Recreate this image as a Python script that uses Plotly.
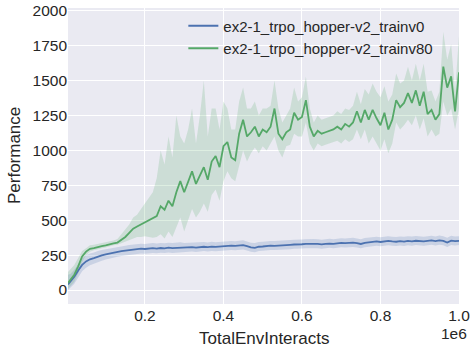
import plotly.graph_objects as go

# Total environment interactions (thousands)
interacts_k = [4, 10, 20, 30, 40, 50, 60, 70, 80, 90,
               100, 110, 120, 130, 140, 150, 160, 170, 180, 190,
               200, 210, 220, 230, 240, 250, 260, 270, 280, 290,
               300, 310, 320, 330, 340, 350, 360, 370, 380, 390,
               400, 410, 420, 430, 440, 450, 460, 470, 480, 490,
               500, 510, 520, 530, 540, 550, 560, 570, 580, 590,
               600, 610, 620, 630, 640, 650, 660, 670, 680, 690,
               700, 710, 720, 730, 740, 750, 760, 770, 780, 790,
               800, 810, 820, 830, 840, 850, 860, 870, 880, 890,
               900, 910, 920, 930, 940, 950, 960, 970, 980, 990, 1000]

# ex2-1_trpo_hopper-v2_trainv0 (blue)
v0_mean = [40, 60, 95, 140, 180, 205, 220, 228, 240, 248,
           255, 262, 268, 272, 278, 282, 286, 290, 292, 296,
           294, 298, 300, 297, 301, 299, 303, 300, 302, 306,
           303, 305, 307, 304, 308, 310, 307, 311, 309, 312,
           310, 314, 318, 316, 319, 322, 314, 305, 302, 310,
           312, 316, 318, 317, 320, 322, 321, 324, 326, 325,
           328, 330, 328, 331, 330, 327, 330, 333, 330, 335,
           337, 336, 338, 340, 336, 330, 338, 342, 345, 348,
           344, 350, 352, 348, 346, 350, 347, 352, 349, 353,
           350, 348, 352, 355, 350, 356, 352, 340, 354, 350, 352]
v0_low = [0, 15, 45, 90, 135, 160, 178, 188, 200, 210,
          218, 226, 232, 238, 244, 248, 252, 256, 258, 262,
          260, 264, 266, 263, 267, 265, 269, 266, 268, 272,
          272, 274, 276, 273, 277, 279, 276, 280, 278, 281,
          279, 283, 287, 285, 288, 291, 283, 274, 271, 279,
          281, 285, 287, 286, 289, 291, 290, 293, 295, 294,
          297, 299, 297, 300, 299, 296, 299, 302, 299, 304,
          306, 305, 307, 309, 305, 299, 307, 311, 314, 317,
          313, 319, 321, 317, 315, 319, 316, 321, 318, 322,
          319, 317, 321, 324, 319, 325, 321, 309, 323, 319, 322]
v0_high = [110, 115, 145, 190, 225, 250, 262, 268, 280, 286,
           292, 298, 304, 308, 314, 318, 322, 326, 328, 332,
           330, 334, 336, 333, 337, 335, 339, 336, 338, 342,
           337, 339, 341, 338, 342, 344, 341, 345, 343, 346,
           344, 348, 352, 350, 353, 356, 348, 339, 336, 344,
           346, 350, 352, 351, 354, 356, 355, 358, 360, 359,
           362, 364, 362, 365, 364, 361, 364, 367, 364, 369,
           371, 370, 372, 374, 370, 364, 372, 376, 379, 382,
           378, 384, 386, 382, 380, 384, 381, 386, 383, 387,
           384, 382, 386, 389, 384, 390, 386, 374, 388, 384, 386]

# ex2-1_trpo_hopper-v2_trainv80 (green)
v80_mean = [50, 75, 110, 170, 240, 275, 295, 300, 310, 315,
            320, 330, 335, 340, 360, 380, 410, 440, 455, 470,
            490, 500, 520, 530, 600, 575, 640, 600, 700, 780,
            700, 770, 850, 760, 820, 880, 790, 920, 960, 880,
            1030, 1060, 950, 930, 1120, 1220, 1100, 1130, 1170, 1100,
            1150, 1130, 1170, 1300, 1120, 1080, 1130, 1150, 1270, 1220,
            1240, 1360, 1170, 1100, 1140, 1120, 1130, 1140, 1150, 1170,
            1150, 1190, 1170, 1200, 1280, 1200, 1290, 1220, 1290, 1230,
            1180, 1270, 1150, 1220, 1360, 1310, 1340, 1410, 1340, 1430,
            1320, 1420, 1260, 1290, 1220, 1260, 1600, 1450, 1530, 1280, 1560]
v80_low = [10, 30, 60, 120, 200, 250, 275, 285, 295, 300,
           305, 315, 320, 325, 335, 345, 360, 370, 380, 380,
           385, 380, 375, 380, 400, 370, 420, 380, 450, 520,
           420, 500, 580, 520, 560, 620, 560, 680, 720, 640,
           780, 850, 800, 780, 900, 1000, 920, 980, 1020, 980,
           1030, 1000, 1050, 1100, 1000, 950, 1030, 1040, 1120, 1100,
           1100, 1200, 1050, 1000, 1050, 1030, 1040, 1050, 1060, 1070,
           1050, 1080, 1060, 1080, 1150, 1080, 1150, 1050, 1100, 1050,
           1000, 1080, 980, 1050, 1200, 1150, 1180, 1220, 1180, 1250,
           1150, 1230, 1100, 1150, 1100, 1120, 1350, 1250, 1300, 1150, 1300]
v80_high = [130, 150, 180, 230, 280, 300, 320, 325, 330, 335,
            340, 350, 355, 365, 400, 430, 470, 520, 540, 580,
            620, 660, 700, 800, 1000, 900, 1100, 950, 1250, 1100,
            1050, 1150, 1300, 1050, 1250, 1500, 1100, 1300, 1300, 1150,
            1350, 1300, 1150, 1150, 1350, 1450, 1300, 1300, 1350, 1250,
            1300, 1300, 1320, 1500, 1300, 1200, 1250, 1300, 1450, 1350,
            1380, 1530, 1300, 1200, 1250, 1220, 1230, 1240, 1250, 1280,
            1260, 1300, 1290, 1320, 1420, 1330, 1440, 1400, 1480, 1420,
            1380, 1460, 1350, 1400, 1550, 1480, 1500, 1600, 1500, 1620,
            1500, 1620, 1420, 1430, 1350, 1420, 1850, 1650, 1760, 1420, 1820]

x_ticks = [0.2, 0.4, 0.6, 0.8, 1.0]
x_tick_labels = ["0.2", "0.4", "0.6", "0.8", "1.0"]
y_ticks = [0, 250, 500, 750, 1000, 1250, 1500, 1750, 2000]

x = [k * 1000 for k in interacts_k]

series = [
    ("ex2-1_trpo_hopper-v2_trainv0", v0_mean, v0_low, v0_high, "#4C72B0", "rgba(76,114,176,0.2)"),
    ("ex2-1_trpo_hopper-v2_trainv80", v80_mean, v80_low, v80_high, "#55A868", "rgba(85,168,104,0.2)"),
]

FONT = "Liberation Sans, Arial, sans-serif"
fig = go.Figure()
for name, mean, low, high, color, fillc in series:
    fig.add_trace(go.Scatter(x=x, y=low, mode="lines", line=dict(width=0),
                             showlegend=False, hoverinfo="skip"))
    fig.add_trace(go.Scatter(x=x, y=high, mode="lines", line=dict(width=0),
                             fill="tonexty", fillcolor=fillc,
                             showlegend=False, hoverinfo="skip"))
for name, mean, low, high, color, fillc in series:
    fig.add_trace(go.Scatter(x=x, y=mean, mode="lines", name=name,
                             line=dict(color=color, width=1.8)))

fig.update_layout(
    width=474, height=348,
    margin=dict(l=68, r=15, t=8, b=44),
    paper_bgcolor="white", plot_bgcolor="#EAEAF2",
    font=dict(family=FONT, size=15.5, color="#262626"),
    legend=dict(x=0.295, y=0.995, xanchor="left", yanchor="top",
                traceorder="normal",
                bgcolor="rgba(0,0,0,0)", font=dict(size=15),
                tracegroupgap=0, itemwidth=30),
    xaxis=dict(range=[4000, 1000000], tickvals=[t * 1e6 for t in x_ticks],
               ticktext=x_tick_labels, showgrid=True, gridcolor="white",
               gridwidth=1.2, zeroline=False, showline=False, ticks="",
               automargin=False),
    yaxis=dict(range=[-100, 2020], tickvals=y_ticks, showgrid=True,
               gridcolor="white", gridwidth=1.2, zeroline=False, showline=False,
               ticks="", automargin=False),
    annotations=[
        dict(text="1e6", xref="paper", yref="paper", x=0.987, y=-0.098,
             xanchor="center", yanchor="middle", showarrow=False,
             font=dict(size=15.5)),
        dict(text="TotalEnvInteracts", xref="paper", yref="paper", x=0.5, y=-0.115,
             xanchor="center", yanchor="middle", showarrow=False,
             font=dict(size=17)),
        dict(text="Performance", xref="paper", yref="paper", x=-0.138, y=0.5,
             xanchor="center", yanchor="middle", showarrow=False, textangle=-90,
             font=dict(size=17)),
    ],
)
fig.write_html("out.html", config={"displayModeBar": False},
               post_script="document.body.style.margin='0';document.body.style.overflow='hidden';")
